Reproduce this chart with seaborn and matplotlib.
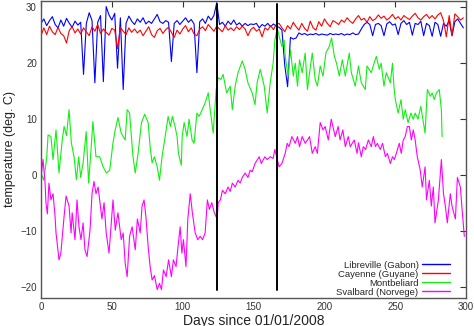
import matplotlib
matplotlib.use("Agg")
import matplotlib.pyplot as plt
import seaborn as sns
import numpy as np
import pandas as pd

# ---------------- data ----------------
days_step2 = list(range(0, 300, 2))

libreville = [
    27.0, 27.8, 26.6, 27.5, 28.2, 26.8, 26.2, 27.6, 26.5, 27.9, 27.0, 26.3, 27.4, 26.7, 27.2,
    17.9, 27.0, 28.9, 27.5, 16.4, 27.2, 28.4, 16.6, 30.0, 28.5, 27.6, 28.8, 19.0, 28.0, 15.2,
    27.0, 28.3, 27.4, 26.8, 27.8, 27.2, 28.0, 26.9, 27.4, 27.0, 27.8, 28.6, 27.3, 27.0, 27.5,
    27.2, 20.2, 27.0, 27.5, 26.8, 27.4, 28.0, 27.2, 27.7, 26.9, 18.2, 27.3, 27.8, 27.0, 28.3,
    27.6, 28.4, 30.7, 26.8, 27.2, 26.5, 27.4, 26.8, 27.6, 26.7, 27.1, 26.5, 27.0, 26.6, 26.9,
    26.8, 27.0, 26.2, 26.8, 26.5, 27.0, 26.4, 26.9, 26.5, 26.3, 25.8, 19.5, 15.7, 24.5, 24.2,
    24.4, 25.3, 25.0, 25.2, 24.9, 25.1, 25.0, 25.2, 24.9, 25.1, 25.0, 24.9, 25.2, 25.0, 25.1,
    25.0, 25.2, 24.9, 25.1, 25.0, 25.3, 25.0, 25.1, 26.0, 26.8, 27.2, 26.8, 24.8, 26.8, 27.0,
    26.6, 24.8, 26.9, 27.3, 26.7, 26.9, 25.0, 27.0, 27.5, 26.8, 27.2, 24.9, 27.0, 26.8, 27.4,
    24.8, 27.0, 26.6, 24.7, 27.2, 26.8, 24.7, 27.0, 26.5, 27.5, 24.8, 27.3, 27.8, 27.0, 26.2,
]

cayenne = [
    24.8, 26.2, 25.0, 26.5, 25.5, 25.0, 26.3, 25.2, 24.8, 23.5, 25.8, 26.4, 25.3, 26.0, 25.1,
    26.2, 25.5, 24.8, 26.4, 25.6, 26.8, 25.2, 26.0, 25.4, 24.9, 26.1, 25.8, 22.5, 26.3, 25.6,
    25.0, 26.2, 25.4, 26.0, 25.3, 25.8, 24.8, 25.6, 26.4, 25.0, 24.5, 25.7, 26.1, 25.2, 25.9,
    26.3, 25.4, 24.5, 25.8, 25.1, 26.0, 26.6, 25.5, 26.2, 25.1, 24.8, 26.0, 26.4, 25.7, 26.8,
    26.2, 25.6, 26.5, 26.0, 25.5, 26.6, 25.8, 26.2, 25.7, 26.4, 25.9, 26.5, 26.0, 24.8, 25.9,
    26.3, 25.6, 26.0, 24.6, 26.2, 25.8, 26.6, 25.9, 26.8, 27.0, 26.2, 25.5, 26.6, 26.0, 27.2,
    26.4, 25.8, 27.0, 26.1, 25.6, 27.4, 26.2, 25.8, 27.3, 26.5, 27.8, 27.0, 26.4, 27.5, 27.2,
    26.8, 27.6, 27.2, 28.0, 27.4, 27.0, 27.8, 28.4, 27.6, 27.9, 27.2, 28.2, 27.5, 27.8, 28.5,
    27.9, 28.3, 27.6, 28.0, 28.6, 27.8, 28.2, 27.6, 28.4, 28.0, 27.7, 28.3, 28.8, 28.0, 27.6,
    28.2, 28.6, 27.9, 28.4, 27.8, 28.5, 28.9, 27.5, 24.6, 28.4, 24.8, 28.7, 28.2, 27.6, 28.0,
]

montbeliard_days = [
    0, 2, 4, 5, 7, 8.5, 10.6, 12.7, 15, 16.3, 18, 19.8, 21.4, 23.3, 25, 26.6, 28, 29.7,
    31.9, 33.6, 35.3, 36.6, 38.8, 41.4, 43.8, 46.2, 48.5, 50.8, 52.4, 54.3, 56.6, 59.4,
    60.8, 62.5, 64.9, 66.5, 68.5, 70.9, 73.2, 75.6, 77, 78.4, 80, 82, 83.6, 85.4, 87.6,
    89.7, 91.3, 92.7, 94.6, 96, 97, 99, 99.6, 101, 103, 104.5, 106.6, 108, 110, 111.6,
    113.7, 115.8, 118, 119.4, 121.5, 123.6, 125, 127, 128.5, 131, 133.5, 135, 137, 139,
    142, 144, 146, 149, 151, 152.5, 154.7, 157.5, 159.6, 161.7, 163.8, 165, 166.7, 168,
    170, 171.6, 172.3, 174.4, 176, 178, 179.4, 181, 182.4, 184.3, 186.4, 188, 189.5,
    191.4, 193.5, 195, 197, 199, 201, 203.4, 205, 207, 208.5, 210.5, 212.6, 214.7,
    217.5, 219, 221.7, 224, 226, 228.8, 230, 233, 235, 236.6, 238.7, 240, 242, 243.6,
    246.5, 248, 249, 250, 252, 254, 255.6, 257, 259, 261, 262.7, 264, 266, 268, 269.8,
    271, 272.6, 274.7, 276, 277.5, 279, 281, 282.5, 283,
]
montbeliard = [
    0.3, -1.0, 3.0, 7.1, 6.8, 2.7, 8.0, 0.3, 6.2, 8.6, 7.0, 11.6, 5.7, 3.2, -0.9, 3.2, -0.5, 2.1,
    7.7, -1.5, 4.5, 9.5, 3.2, 3.2, 1.4, 0.3, 0.8, 5.7, 8.0, 10.2, 7.4, 6.2,
    11.6, 11.0, 3.2, 0.3, 3.8, 9.3, 10.8, 9.3, 5.0, 2.1, 3.2, 1.4, -1.0, 3.2, 6.8,
    10.4, 8.6, 10.4, 8.6, 6.8, 3.8, 1.7, 6.8, 9.3, 6.8, 9.9, 6.2, 5.6, 11.0, 10.4,
    11.6, 12.8, 14.6, 11.6, 7.4, 15.2, 17.3, 17.0, 17.9, 14.6, 15.8, 11.6, 15.8, 18.2,
    20.3, 18.8, 16.4, 14.6, 12.5, 16.4, 18.8, 15.8, 11.0, 16.4, 19.9, 24.0, 26.2, 24.7,
    22.9, 24.0, 21.1, 17.6, 22.3, 17.6, 19.9, 15.8, 20.5, 18.2, 21.7, 15.2, 18.2,
    21.7, 17.0, 15.8, 19.4, 17.6, 21.7, 22.9, 24.4, 21.1, 19.9, 17.6, 20.5, 17.6,
    21.7, 18.2, 15.8, 19.4, 16.4, 15.2, 19.4, 18.2, 19.9, 21.1, 18.8, 19.9, 15.8, 18.2,
    16.4, 19.9, 15.8, 13.4, 11.0, 13.4, 9.9, 11.6, 9.3, 11.0, 9.9, 11.0, 9.9, 12.2, 9.3,
    7.4, 15.2, 14.0, 14.6, 13.4, 14.6, 15.2, 11.6, 6.8,
]

svalbard_days = [
    0, 1.4, 2.8, 3.5, 4.5, 5.6, 7, 8.5, 9.9, 10.6, 12.7, 14, 16.3, 17.7, 19.8, 21.2, 22, 24,
    25.4, 26.8, 28.2, 29.7, 31, 32.5, 34.6, 36, 37.4, 38.8, 40.3, 41.4, 43, 44.5, 46, 48,
    49.4, 50.8, 52.4, 54.3, 56.6, 58, 59.4, 60.8, 62.5, 64.3, 66.5, 68, 70, 71.3, 72.7, 74,
    75.6, 77, 78.4, 80, 82, 83.6, 85, 86.4, 88.3, 90, 92, 93.4, 95.3, 96.7, 98.2, 99.4,
    100.5, 102.3, 103.6, 105.3, 106.8, 108.8, 110.6, 112.3, 114, 115.8, 117.4, 118.8,
    120.5, 122.3, 124.3, 125, 126.6, 128, 130, 132, 133.5, 135, 137, 139, 140.5, 142, 144,
    146, 147.6, 149, 151, 154, 155.4, 158, 159.6, 161.7, 163.8, 165, 166.7, 168, 170,
    172.3, 173.7, 175, 177, 179.4, 181, 182.4, 184.3, 186.4, 188, 189.5, 191.4, 193.5,
    195, 197, 199, 200.5, 202.7, 204.8, 206, 207.6, 209.7, 211, 213, 214.7, 216.8, 218.2,
    221, 223, 224, 226, 227.4, 229, 231, 233, 234.5, 236, 237.3, 239.4, 241, 243, 244.4,
    246.5, 248, 249.3, 250.7, 252.8, 254.2, 255.6, 257, 258.5, 259.9, 261.3, 262.7, 264,
    265.5, 267.6, 269, 271, 272, 274, 275.4, 276.8, 278, 280.4, 282.5, 284, 285.3, 286.7,
    288.8, 290, 292.4, 293.8, 295.9, 297.3, 298.7,
]
svalbard = [
    -0.5, 2.7, -1.2, -5.0, -7.0, -1.5, -4.5, -3.4, -7.4, -10.4, -15.2, -14.0, -7.4, -3.8, -5.6, -10.4, -6.8, -11.6,
    -4.5, -9.3, -11.6, -8.6, -13.4, -14.6, -9.9, -3.4, -1.2, -3.4, -2.2, -4.5, -7.9, -5.0, -10.4, -14.0,
    -9.3, -4.5, -9.9, -6.8, -11.6, -10.4, -15.8, -18.2, -11.0, -9.3, -13.4, -7.9, -10.4, -5.6, -4.5, -7.4,
    -12.8, -16.4, -18.8, -18.0, -20.5, -19.4, -20.5, -17.0, -18.2, -15.2, -18.2, -15.2, -16.4, -12.8, -9.3, -14.0,
    -11.6, -16.4, -7.9, -3.4, -6.8, -10.4, -11.6, -11.0, -11.6, -10.4, -4.5, -6.2,
    -5.0, -6.8, -7.9, -5.0, -4.5, -2.8, -3.4, -2.2, -3.0, -1.5, -2.2, -1.0, -1.5, -0.5, 0.3,
    -0.5, 0.8, 0.5, 2.0, 3.2, 2.0, 3.2, 2.7, 3.2, 2.9, 4.5, 2.7, 1.4, 2.0,
    3.8, 5.6, 5.0, 6.8, 5.6, 6.8, 5.0, 6.8, 5.6, 6.2, 6.8, 3.8, 5.0,
    3.8, 9.3, 8.0, 8.6, 6.2, 9.9, 8.6, 6.8, 8.6, 6.2, 8.0, 5.0, 6.8, 5.0,
    6.2, 3.8, 5.7, 3.2, 5.0, 4.5, 6.2, 5.0, 6.8, 5.0, 5.6, 4.5, 5.6, 3.2, 3.8,
    2.0, 3.2, 2.7, 3.8, 5.6, 3.8, 6.2, 6.8, 8.6, 8.6, 6.2, 8.0, 6.2,
    3.2, 0.8, -2.2, 1.4, -4.5, -1.0, -5.6, -2.2, -8.6, -4.5, 2.7, -3.4, -5.6, -8.6,
    -3.4, -5.6, -7.9, -0.5, -2.2, -6.8, -11.0,
]

labels = ["Libreville (Gabon)", "Cayenne (Guyane)", "Montbeliard", "Svalbard (Norvege)"]
colors = ["#0000ff", "#ff0000", "#11f011", "#ff00ff"]
event_days = [124.3, 166.7]
event_range = [-20.5, 30.5]

x_ticks = [0, 50, 100, 150, 200, 250, 300]
y_ticks = [-20, -10, 0, 10, 20, 30]

# ---------------- plot ----------------
sns.set_style("white")
plt.rcParams["font.family"] = ["Liberation Sans", "DejaVu Sans"]

fig = plt.figure(figsize=(4.74, 3.26), dpi=100)
ax = fig.add_axes([0.0865, 0.086, 0.897, 0.911])

series = [
    (days_step2, libreville),
    (days_step2, cayenne),
    (montbeliard_days, montbeliard),
    (svalbard_days, svalbard),
]
for (xd, yd), lab, col in zip(series, labels, colors):
    df = pd.DataFrame({"day": xd, "temp": yd})
    sns.lineplot(data=df, x="day", y="temp", color=col, label=lab, lw=0.8,
                 estimator=None, sort=False, ax=ax)

for d in event_days:
    ax.plot([d, d], event_range, color="black", lw=1.4, zorder=5)

ax.set_xlim(0, 300)
ax.set_ylim(-22, 31)
ax.set_xticks(x_ticks)
ax.set_yticks(y_ticks)
ax.tick_params(axis="both", direction="in", length=4, width=0.8, labelsize=7,
               colors="#333333", top=True, right=True, labeltop=False, labelright=False,
               pad=3)
for s in ax.spines.values():
    s.set_color("#555555")
    s.set_linewidth(1.0)

ax.set_xlabel("Days since 01/01/2008", fontsize=10, labelpad=1, color="#222222")
ax.set_ylabel("temperature (deg. C)", fontsize=9, labelpad=3, color="#222222")

leg = ax.legend(loc="lower right", bbox_to_anchor=(0.978, -0.018), frameon=False,
                markerfirst=False, fontsize=6.8, handlelength=3.0, handletextpad=0.35,
                labelspacing=0.0, borderpad=0.2)
for h in leg.get_lines():
    h.set_linewidth(1.0)

fig.savefig("out.png", dpi=100)
